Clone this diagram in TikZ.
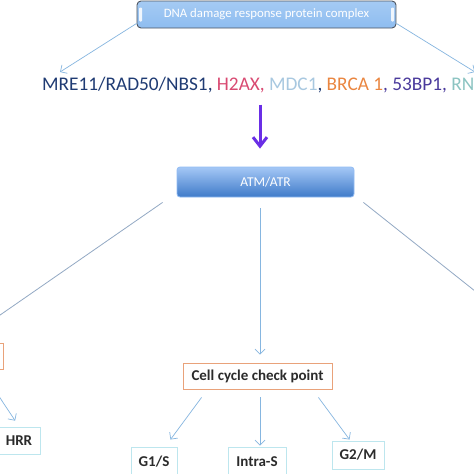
\documentclass[tikz,border=0pt]{standalone}
\usepackage{fontspec}
\setmainfont{Carlito}
\usetikzlibrary{positioning,arrows.meta,calc}
\definecolor{cnavy}{HTML}{1F3B73}
\definecolor{cpink}{HTML}{D94A72}
\definecolor{cpale}{HTML}{A8C8E0}
\definecolor{corange}{HTML}{EA8640}
\definecolor{cpurple}{HTML}{4A3A9C}
\definecolor{cteal}{HTML}{8CC4C2}
\definecolor{cviolet}{HTML}{6A2EE6}
\definecolor{clink}{HTML}{86B6E0}
\definecolor{cspoke}{HTML}{93A9C4}
\definecolor{cframe}{HTML}{4F5660}
\definecolor{ctop}{HTML}{8EBDF0}
\definecolor{catm}{HTML}{4A90EC}
\definecolor{cbox}{HTML}{E9A27A}
\definecolor{ccyan}{HTML}{BDE6EE}
\definecolor{cdark}{HTML}{2B2B2B}
\tikzset{
  topbox/.style={rectangle, rounded corners=4pt, draw=cframe, line width=0.9pt,
                 top color=ctop!80!white, bottom color=ctop, text=white,
                 minimum width=259, minimum height=27, inner sep=0,
                 font=\fontsize{12.8}{14}\selectfont,
                 path picture={
                   \fill[white, opacity=0.85, rounded corners=1pt]
                     ($(path picture bounding box.west)+(2,-7)$) rectangle ++(3,14);
                   \fill[white, opacity=0.85, rounded corners=1pt]
                     ($(path picture bounding box.east)+(-5,-7)$) rectangle ++(3,14);}},
  atmbox/.style={rectangle, rounded corners=3pt, draw=catm!60!white, line width=0.8pt,
                 top color=catm!50!white, middle color=catm, bottom color=catm!85!black,
                 text=white, minimum width=177, minimum height=30, inner sep=0,
                 font=\fontsize{13.5}{15}\selectfont},
  checkbox/.style={rectangle, draw=cbox, line width=0.8pt, fill=white, text=cdark,
                   minimum height=26, inner sep=0, font=\fontsize{15}{17}\selectfont\bfseries},
  phasebox/.style={rectangle, draw=ccyan, line width=0.9pt, fill=white, text=cdark,
                   inner sep=0, font=\fontsize{15}{17}\selectfont\bfseries},
  link/.style={-{Straight Barb[length=5pt, width=10pt]}, line width=0.7pt, draw=clink},
  spoke/.style={line width=0.8pt, draw=cspoke},
  push/.style={-{Straight Barb[length=9pt, width=14pt]}, line width=3pt, draw=cviolet}
}
\begin{document}
\begin{tikzpicture}[x=1pt, y=-1pt]
\useasboundingbox (0,0) rectangle (474,474);
\clip (0,0) rectangle (474,474);
\fill[white] (0,0) rectangle (474,474);
\coordinate (mid) at (260,0);
\coordinate (pl) at (60,72);
\coordinate (pr) at (475,72);
\coordinate (al) at (-10,322);
\coordinate (ar) at (480,295);
\node[topbox] (dna) at (266.5,14.5) {DNA damage response protein complex};
\node[anchor=base west, inner sep=0, font=\fontsize{19.3}{22}\selectfont] (prot) at (42,90)
  {\textcolor{cnavy}{MRE11/RAD50/NBS1,} \textcolor{cpink}{H2AX,} \textcolor{cpale}{MDC1}\textcolor{cnavy}{,}
   \textcolor{corange}{BRCA 1}\textcolor{cpurple}{, 53BP1,} \textcolor{cteal}{RN}};
\node[atmbox] (atm) at (265.5,182) {ATM/ATR};
\node[checkbox, minimum width=43] (repair) at (-18.5,356.5) {};
\node[checkbox, minimum width=149] (cell) at (257.5,376) {Cell cycle check point};
\node[phasebox, minimum width=42, minimum height=27] (hrr) at (19,440.5) {HRR};
\node[phasebox, minimum width=46, minimum height=30] (g1s) at (154,462) {G1/S};
\node[phasebox, minimum width=58, minimum height=30] (intra) at (257,462) {Intra-S};
\node[phasebox, minimum width=52, minimum height=28] (g2m) at (358,455) {G2/M};
\draw[link] ($(dna.south west)+(0,-5)$) -- (pl);
\draw[link] ($(dna.south east)+(0,-5)$) -- (pr);
\draw[push, shorten <=12pt, shorten >=18pt] (prot.south -| mid) -- (atm.north -| mid);
\draw[spoke] ($(atm.south west)+(-14,5)$) -- (al);
\draw[spoke] ($(atm.south east)+(9,5)$) -- (ar);
\draw[link, shorten <=11pt, shorten >=8pt] (atm.south -| mid) -- (cell.north -| mid);
\draw[link, shorten <=2pt, shorten >=7pt] (repair.south) -- (hrr.north);
\draw[link] ($(cell.south west)+(19,8)$) -- ($(g1s.north east)+(-7,-7)$);
\draw[link, shorten <=8pt, shorten >=1pt] (cell.south -| mid) -- (intra.north -| mid);
\draw[link] ($(cell.south east)+(-14,8)$) -- ($(g2m.north west)+(18,-1)$);
\end{tikzpicture}
\end{document}
